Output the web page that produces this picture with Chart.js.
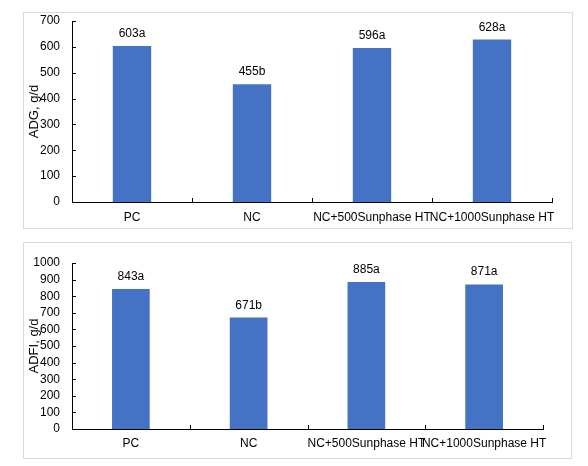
<!DOCTYPE html>
<html>
<head>
<meta charset="utf-8">
<script src="https://cdn.jsdelivr.net/npm/chart.js@4.4.1/dist/chart.umd.min.js"></script>
<style>
    body {
        margin: 0;
        background: #ffffff;
    }
    .panel {
        position: absolute;
        box-sizing: border-box;
        border: 1px solid #d9d9d9;
        background: #ffffff;
    }
    #adgBox {
        left: 23px;
        top: 12px;
        width: 550px;
        height: 217px;
    }
    #adfiBox {
        left: 23px;
        top: 242px;
        width: 549px;
        height: 217px;
    }
</style>
</head>
<body>

<div class="panel" id="adgBox"><canvas id="adgChart"></canvas></div>
<div class="panel" id="adfiBox"><canvas id="adfiChart"></canvas></div>

<script>
// ===============================
// DATA
// ===============================

const treatments = [
    'PC',
    'NC',
    'NC+500Sunphase HT',
    'NC+1000Sunphase HT'
];

const adgValues = [603, 455, 596, 628];
const adgLetters = ['a', 'b', 'a', 'a'];

const adfiValues = [843, 671, 885, 871];
const adfiLetters = ['a', 'b', 'a', 'a'];

const adgTicks = { max: 700, step: 100 };
const adfiTicks = { max: 1000, step: 100 };

// ===============================
// SHARED STYLE
// ===============================

const FONT = "'Liberation Sans', Arial, sans-serif";
const BAR_COLOR = '#4472c4';
const TEXT_COLOR = '#000000';

Chart.defaults.font.family = FONT;
Chart.defaults.color = TEXT_COLOR;
Chart.defaults.animation = false;

// value + letter written above each bar
const barLabels = {
    id: 'barLabels',
    afterDatasetsDraw(chart, args, opts) {
        const ctx = chart.ctx;
        const meta = chart.getDatasetMeta(0);
        const values = chart.data.datasets[0].data;
        ctx.save();
        ctx.font = '12px ' + FONT;
        ctx.fillStyle = TEXT_COLOR;
        ctx.textAlign = 'center';
        ctx.textBaseline = 'alphabetic';
        meta.data.forEach((bar, i) => {
            ctx.fillText(values[i] + opts.letters[i], bar.x, bar.y - 9);
        });
        ctx.restore();
    }
};

// Excel style tick marks pointing inside the plot
const insideTicks = {
    id: 'insideTicks',
    afterDraw(chart) {
        const ctx = chart.ctx;
        const area = chart.chartArea;
        const x = chart.scales.x;
        const y = chart.scales.y;
        ctx.save();
        ctx.strokeStyle = '#000000';
        ctx.lineWidth = 1;
        ctx.beginPath();
        y.ticks.forEach(t => {
            const py = Math.round(y.getPixelForValue(t.value)) + 0.5;
            ctx.moveTo(area.left, py);
            ctx.lineTo(area.left + 4, py);
        });
        for (let i = 0; i <= chart.data.labels.length; i++) {
            const px = Math.round(x.getPixelForValue(i - 0.5)) + 0.5;
            ctx.moveTo(px, area.bottom);
            ctx.lineTo(px, area.bottom - 4);
        }
        ctx.stroke();
        ctx.restore();
    }
};

function makeBarChart(canvasId, values, letters, yTitle, range, pad) {
    const el = document.getElementById(canvasId);
    if (!el) return;

    new Chart(el, {
        type: 'bar',
        data: {
            labels: treatments,
            datasets: [{
                data: values,
                backgroundColor: BAR_COLOR,
                borderWidth: 0,
                barPercentage: 0.32,
                categoryPercentage: 1
            }]
        },
        options: {
            responsive: true,
            maintainAspectRatio: false,
            layout: {
                padding: { top: pad.top, right: pad.right, bottom: 0, left: 0 }
            },
            plugins: {
                legend: { display: false },
                tooltip: { enabled: false },
                barLabels: { letters: letters }
            },
            scales: {
                x: {
                    offset: true,
                    grid: { display: false, drawTicks: false },
                    border: { display: true, color: '#000000', width: 1 },
                    ticks: {
                        autoSkip: false,
                        maxRotation: 0,
                        minRotation: 0,
                        padding: pad.xLabel,
                        font: { size: 12 }
                    },
                    afterFit(scale) {
                        scale.height = pad.xHeight;
                    }
                },
                y: {
                    min: 0,
                    max: range.max,
                    // grid hidden, tickLength only used as label gap
                    grid: { display: false, drawTicks: true, tickLength: 12 },
                    border: { display: true, color: '#000000', width: 1 },
                    ticks: {
                        stepSize: range.step,
                        autoSkip: false,
                        padding: 0,
                        font: { size: 12 },
                        callback: v => String(v)
                    },
                    title: {
                        display: true,
                        text: yTitle,
                        padding: { top: 3, bottom: 0 },
                        font: { size: 13 }
                    },
                    afterFit(scale) {
                        scale.width = 48;
                    }
                }
            }
        },
        plugins: [barLabels, insideTicks]
    });
}

// ===============================
// ADG CHART
// ===============================

makeBarChart('adgChart', adgValues, adgLetters, 'ADG, g/d', adgTicks,
    { top: 8, right: 20, xHeight: 26, xLabel: 8 });

// ===============================
// ADFI CHART
// ===============================

makeBarChart('adfiChart', adfiValues, adfiLetters, 'ADFI, g/d', adfiTicks,
    { top: 20, right: 28, xHeight: 29, xLabel: 7 });
</script>
</body>
</html>
